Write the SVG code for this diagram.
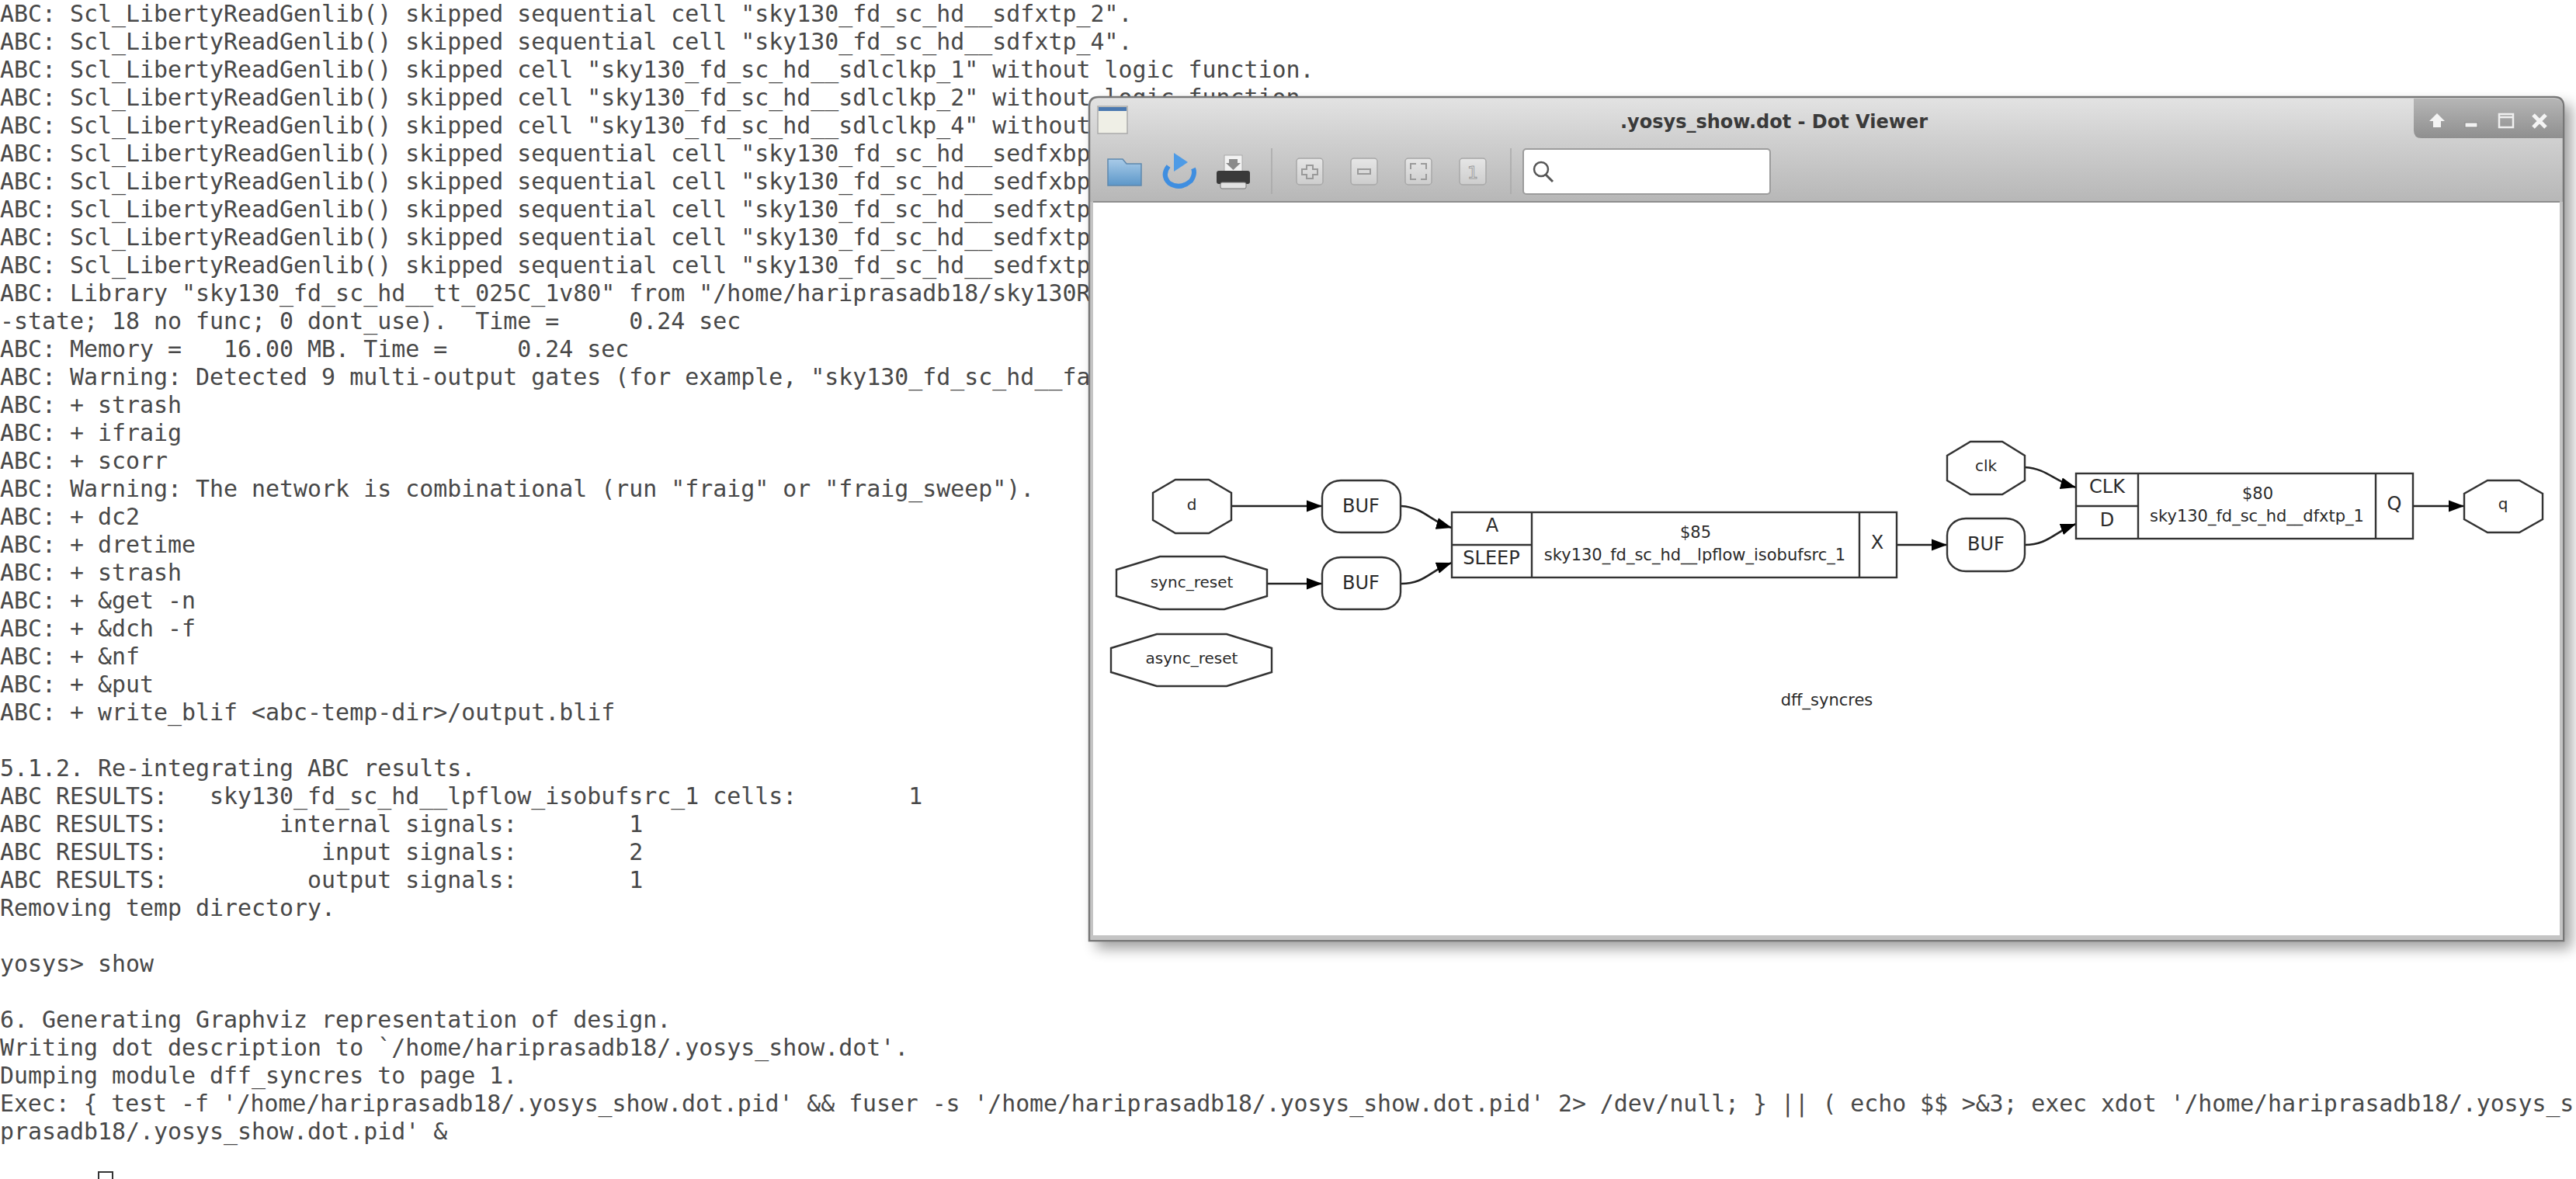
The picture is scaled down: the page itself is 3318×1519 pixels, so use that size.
<svg xmlns="http://www.w3.org/2000/svg" width="3318" height="1519" viewBox="0 0 3318 1519">
<style>
.t{font-family:"DejaVu Sans Mono","Liberation Mono",monospace;font-size:29.91px;fill:#484848;white-space:pre}
.n{font-family:"DejaVu Sans","Liberation Sans",sans-serif;fill:#2a2a2a;text-anchor:middle}
.big{font-size:24px}.mid{font-size:21px}.sm{font-size:20px}
.s{fill:#fff;stroke:#333;stroke-width:2.4}
.l{fill:none;stroke:#333;stroke-width:2.4}
.e{fill:none;stroke:#222;stroke-width:2.6;marker-end:url(#ah)}
.tb{fill:url(#btn);stroke:#a8a8a8;stroke-width:1.5}
.gl{fill:none;stroke:#9a9a9a;stroke-width:2}
</style>
<defs>
<marker id="ah" markerUnits="userSpaceOnUse" markerWidth="20" markerHeight="16" refX="20" refY="8" orient="auto"><path d="M0,0.5 L20,8 L0,15.5 Z" fill="#000"/></marker>
<linearGradient id="bar" gradientUnits="userSpaceOnUse" x1="0" y1="125" x2="0" y2="260"><stop offset="0" stop-color="#e3e3e3"/><stop offset=".4" stop-color="#d0d0d0"/><stop offset="1" stop-color="#b7b7b7"/></linearGradient>
<linearGradient id="panel" x1="0" y1="0" x2="0" y2="1"><stop offset="0" stop-color="#b6b6b6"/><stop offset="1" stop-color="#8f8f8f"/></linearGradient>
<linearGradient id="btn" x1="0" y1="0" x2="0" y2="1"><stop offset="0" stop-color="#e6e6e6"/><stop offset="1" stop-color="#cdcdcd"/></linearGradient>
<linearGradient id="fold" x1="0" y1="0" x2="0" y2="1"><stop offset="0" stop-color="#a9cbe8"/><stop offset="1" stop-color="#5c97c9"/></linearGradient>
<filter id="sh" x="-5%" y="-5%" width="110%" height="112%"><feGaussianBlur stdDeviation="9"/></filter>
</defs>
<rect width="3318" height="1519" fill="#fff"/>
<g id="terminal" transform="translate(0,1.5)">
<text class="t" x="0" y="26">ABC: Scl_LibertyReadGenlib() skipped sequential cell "sky130_fd_sc_hd__sdfxtp_2".</text>
<text class="t" x="0" y="62">ABC: Scl_LibertyReadGenlib() skipped sequential cell "sky130_fd_sc_hd__sdfxtp_4".</text>
<text class="t" x="0" y="98">ABC: Scl_LibertyReadGenlib() skipped cell "sky130_fd_sc_hd__sdlclkp_1" without logic function.</text>
<text class="t" x="0" y="134">ABC: Scl_LibertyReadGenlib() skipped cell "sky130_fd_sc_hd__sdlclkp_2" without logic function.</text>
<text class="t" x="0" y="170">ABC: Scl_LibertyReadGenlib() skipped cell "sky130_fd_sc_hd__sdlclkp_4" without</text>
<text class="t" x="0" y="206">ABC: Scl_LibertyReadGenlib() skipped sequential cell "sky130_fd_sc_hd__sedfxbp</text>
<text class="t" x="0" y="242">ABC: Scl_LibertyReadGenlib() skipped sequential cell "sky130_fd_sc_hd__sedfxbp</text>
<text class="t" x="0" y="278">ABC: Scl_LibertyReadGenlib() skipped sequential cell "sky130_fd_sc_hd__sedfxtp</text>
<text class="t" x="0" y="314">ABC: Scl_LibertyReadGenlib() skipped sequential cell "sky130_fd_sc_hd__sedfxtp</text>
<text class="t" x="0" y="350">ABC: Scl_LibertyReadGenlib() skipped sequential cell "sky130_fd_sc_hd__sedfxtp</text>
<text class="t" x="0" y="386">ABC: Library "sky130_fd_sc_hd__tt_025C_1v80" from "/home/hariprasadb18/sky130R</text>
<text class="t" x="0" y="422">-state; 18 no func; 0 dont_use).  Time =     0.24 sec</text>
<text class="t" x="0" y="458">ABC: Memory =   16.00 MB. Time =     0.24 sec</text>
<text class="t" x="0" y="494">ABC: Warning: Detected 9 multi-output gates (for example, "sky130_fd_sc_hd__fa</text>
<text class="t" x="0" y="530">ABC: + strash</text>
<text class="t" x="0" y="566">ABC: + ifraig</text>
<text class="t" x="0" y="602">ABC: + scorr</text>
<text class="t" x="0" y="638">ABC: Warning: The network is combinational (run "fraig" or "fraig_sweep").</text>
<text class="t" x="0" y="674">ABC: + dc2</text>
<text class="t" x="0" y="710">ABC: + dretime</text>
<text class="t" x="0" y="746">ABC: + strash</text>
<text class="t" x="0" y="782">ABC: + &amp;get -n</text>
<text class="t" x="0" y="818">ABC: + &amp;dch -f</text>
<text class="t" x="0" y="854">ABC: + &amp;nf</text>
<text class="t" x="0" y="890">ABC: + &amp;put</text>
<text class="t" x="0" y="926">ABC: + write_blif &lt;abc-temp-dir&gt;/output.blif</text>
<text class="t" x="0" y="998">5.1.2. Re-integrating ABC results.</text>
<text class="t" x="0" y="1034">ABC RESULTS:   sky130_fd_sc_hd__lpflow_isobufsrc_1 cells:        1</text>
<text class="t" x="0" y="1070">ABC RESULTS:        internal signals:        1</text>
<text class="t" x="0" y="1106">ABC RESULTS:           input signals:        2</text>
<text class="t" x="0" y="1142">ABC RESULTS:          output signals:        1</text>
<text class="t" x="0" y="1178">Removing temp directory.</text>
<text class="t" x="0" y="1250">yosys&gt; show</text>
<text class="t" x="0" y="1322">6. Generating Graphviz representation of design.</text>
<text class="t" x="0" y="1358">Writing dot description to `/home/hariprasadb18/.yosys_show.dot'.</text>
<text class="t" x="0" y="1394">Dumping module dff_syncres to page 1.</text>
<text class="t" x="0" y="1430" letter-spacing="-0.085">Exec: { test -f '/home/hariprasadb18/.yosys_show.dot.pid' &amp;&amp; fuser -s '/home/hariprasadb18/.yosys_show.dot.pid' 2&gt; /dev/null; } || ( echo $$ &gt;&amp;3; exec xdot '/home/hariprasadb18/.yosys_s</text>
<text class="t" x="0" y="1466">prasadb18/.yosys_show.dot.pid' &amp;</text>
<rect x="127" y="1508.500" width="18" height="14" fill="none" stroke="#333" stroke-width="2"/>
</g>
<g id="window">
<rect x="1412" y="135" width="1900" height="1087" fill="#000" opacity=".38" filter="url(#sh)"/>
<path d="M1403,1212 V137 Q1403,125 1415,125 H3290 Q3302,125 3302,137 V1212 Z" fill="url(#bar)" stroke="#777" stroke-width="2.5"/>
<rect x="1408" y="260" width="1889" height="945" fill="#fff"/>
<rect x="1408" y="1205" width="1889" height="6" fill="#c4c4c4"/>
<rect x="1404.500" y="260" width="3.5" height="951" fill="#c4c4c4"/>
<rect x="3297" y="260" width="4" height="951" fill="#c4c4c4"/>
<line x1="1408" y1="260" x2="3297" y2="260" stroke="#8e8e8e" stroke-width="2"/>
<path d="M3109,127 V168 Q3109,178 3119,178 H3301 V137 Q3301,127 3290,127 Z" fill="url(#panel)"/>
<text x="2285" y="165" font-family="'DejaVu Sans','Liberation Sans',sans-serif" font-weight="700" font-size="24" text-anchor="middle" fill="#3a3a3a">.yosys_show.dot - Dot Viewer</text>
<rect x="1414" y="137" width="38" height="35" fill="#efefe6" stroke="#aaa" stroke-width="1.5"/>
<rect x="1415" y="138" width="36" height="5" fill="#4a78b0"/>
<path d="M1427,239 V205 H1446 L1451,211 H1470 V239 Z" fill="url(#fold)" stroke="#5e88ad" stroke-width="1.5"/>
<path d="M1505,214 Q1496,226 1506,236 Q1520,245 1534,233 Q1540,224 1537,217" fill="none" stroke="#3f8ee0" stroke-width="6"/>
<path d="M1512,197 L1530,209 L1512,221 Z" fill="#4e9be6"/>
<rect x="1577" y="200" width="23" height="22" fill="#f2f2f2" stroke="#aaa"/>
<path d="M1583,205 H1594 V210 H1598 L1588.500,219 L1579,210 H1583 Z" fill="#8a8a8a"/>
<rect x="1567" y="220" width="43" height="17" rx="3" fill="#3a3a3a"/>
<rect x="1572" y="235" width="33" height="8" rx="2" fill="#e2e2e2" stroke="#777"/>
<line x1="1638" y1="191" x2="1638" y2="250" stroke="#a9a9a9" stroke-width="1.5"/>
<line x1="1946" y1="191" x2="1946" y2="250" stroke="#a9a9a9" stroke-width="1.5"/>
<rect class="tb" x="1670" y="204" width="34" height="34" rx="4"/>
<path class="gl" d="M1683,213 h8 v5 h6 v7 h-6 v5 h-8 v-5 h-6 v-7 h6 Z"/>
<rect class="tb" x="1740" y="204" width="34" height="34" rx="4"/>
<rect class="gl" x="1749" y="218" width="16" height="6"/>
<rect class="tb" x="1810" y="204" width="34" height="34" rx="4"/>
<path class="gl" d="M1817,218 v-7 h7 M1837,218 v-7 h-7 M1817,224 v7 h7 M1837,224 v7 h-7"/>
<rect class="tb" x="1880" y="204" width="34" height="34" rx="4"/>
<text x="1897" y="230" font-family="'DejaVu Sans',sans-serif" font-size="22" text-anchor="middle" fill="#ececec" stroke="#9a9a9a" stroke-width="1">1</text>
<rect x="1962" y="192" width="318" height="58" rx="4" fill="#fff" stroke="#9c9c9c" stroke-width="2"/>
<circle cx="1985" cy="218" r="9" fill="none" stroke="#555" stroke-width="2.5"/>
<line x1="1991" y1="225" x2="2000" y2="234" stroke="#555" stroke-width="3"/>
<path d="M3139,146 L3149,156 H3144 V164 H3134 V156 H3129 Z" fill="#f4f4f4"/>
<rect x="3175" y="158" width="16" height="6" fill="#f2f2f2" stroke="#888"/>
<rect x="3219" y="147" width="18" height="17" fill="none" stroke="#efefef" stroke-width="2.500"/>
<line x1="3219" y1="151" x2="3237" y2="151" stroke="#efefef" stroke-width="2.500"/>
<path d="M3263,148 L3279,164 M3279,148 L3263,164" stroke="#f4f4f4" stroke-width="5" fill="none"/>
</g>
<g id="connectors">
<path class="e" d="M1585,652 H1703"/>
<path class="e" d="M1632,752 H1703"/>
<path class="e" d="M1805,652 C1835,654 1842,672 1870,680"/>
<path class="e" d="M1805,752 C1835,752 1842,735 1870,725"/>
<path class="e" d="M2443,702 H2508"/>
<path class="e" d="M2608,602 C2638,604 2645,620 2674,628"/>
<path class="e" d="M2608,702 C2638,702 2645,686 2674,675"/>
<path class="e" d="M3108,652 H3174"/>
</g>
<g id="node_d"><polygon class="s" points="1514,618 1557,618 1586,635 1586,670 1557,687 1514,687 1485,670 1485,635"/><text class="n sm" x="1535" y="657">d</text></g>
<g id="node_sync_reset"><polygon class="s" points="1494,717 1577,717 1632,734 1632,768 1577,785 1494,785 1438,768 1438,734"/><text class="n sm" x="1535" y="757">sync_reset</text></g>
<g id="node_async_reset"><polygon class="s" points="1490,817 1580,817 1638,835 1638,866 1580,884 1490,884 1431,866 1431,835"/><text class="n sm" x="1535" y="855">async_reset</text></g>
<g id="node_buf1"><rect class="s" x="1703" y="619" width="101" height="67" rx="24" ry="22"/><text class="n big" x="1753" y="660">BUF</text></g>
<g id="node_buf2"><rect class="s" x="1703" y="718" width="101" height="67" rx="24" ry="22"/><text class="n big" x="1753" y="759">BUF</text></g>
<g id="node_cell85">
<rect class="s" x="1870" y="660" width="573" height="84"/>
<path class="l" d="M1973,660 V744 M2395,660 V744 M1870,702 H1973"/>
<text class="n big" x="1922" y="685">A</text><text class="n big" x="1921" y="727">SLEEP</text>
<text class="n mid" x="2184" y="693">$85</text><text class="n mid" x="2183" y="722">sky130_fd_sc_hd__lpflow_isobufsrc_1</text>
<text class="n big" x="2418" y="707">X</text>
</g>
<g id="node_buf3"><rect class="s" x="2508" y="668" width="100" height="68" rx="24" ry="22"/><text class="n big" x="2558" y="709">BUF</text></g>
<g id="node_clk"><polygon class="s" points="2538,569 2579,569 2608,587 2608,619 2579,637 2538,637 2508,619 2508,587"/><text class="n sm" x="2558" y="607">clk</text></g>
<g id="node_cell80">
<rect class="s" x="2674" y="610" width="434" height="84"/>
<path class="l" d="M2754,610 V694 M3060,610 V694 M2674,652 H2754"/>
<text class="n big" x="2714" y="635">CLK</text><text class="n big" x="2714" y="678">D</text>
<text class="n mid" x="2908" y="643">$80</text><text class="n mid" x="2907" y="672">sky130_fd_sc_hd__dfxtp_1</text>
<text class="n big" x="3084" y="657">Q</text>
</g>
<g id="node_q"><polygon class="s" points="3204,619 3245,619 3275,636 3275,669 3245,686 3204,686 3174,669 3174,636"/><text class="n sm" x="3224" y="656">q</text></g>
<g id="label"><text class="n mid" x="2353" y="909">dff_syncres</text></g>
</svg>
